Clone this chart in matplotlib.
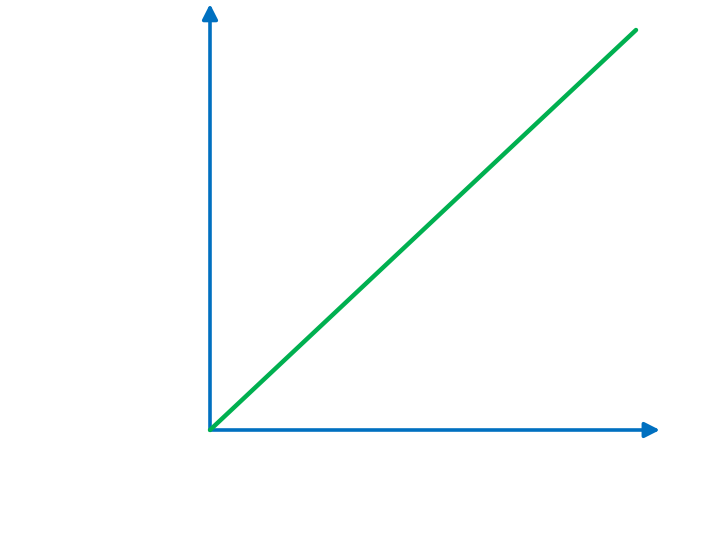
import matplotlib

matplotlib.use("Agg")
import matplotlib.pyplot as plt

# data
line_x = [0, 10]
line_y = [0, 10]
x_axis_end = 10.56
y_axis_end = 10.65

BLUE = "#0070C0"
GREEN = "#00B050"

fig = plt.figure(figsize=(7.2, 5.4), dpi=100)
ax = fig.add_axes([210 / 720, 110 / 540, 426 / 720, 400 / 540])
ax.set_xlim(0, 10)
ax.set_ylim(0, 10)
ax.axis("off")

arrow = dict(arrowstyle="-|>,head_length=0.75,head_width=0.38", mutation_scale=12,
             color=BLUE, lw=2.6, shrinkA=0, shrinkB=0)
ax.annotate("", xy=(x_axis_end, 0), xytext=(0, 0), arrowprops=arrow, annotation_clip=False)
ax.annotate("", xy=(0, y_axis_end), xytext=(0, 0), arrowprops=arrow, annotation_clip=False)

ax.plot(line_x, line_y, color=GREEN, lw=3.2, solid_capstyle="round", clip_on=False, zorder=3)

fig.savefig("out.png", dpi=100)
